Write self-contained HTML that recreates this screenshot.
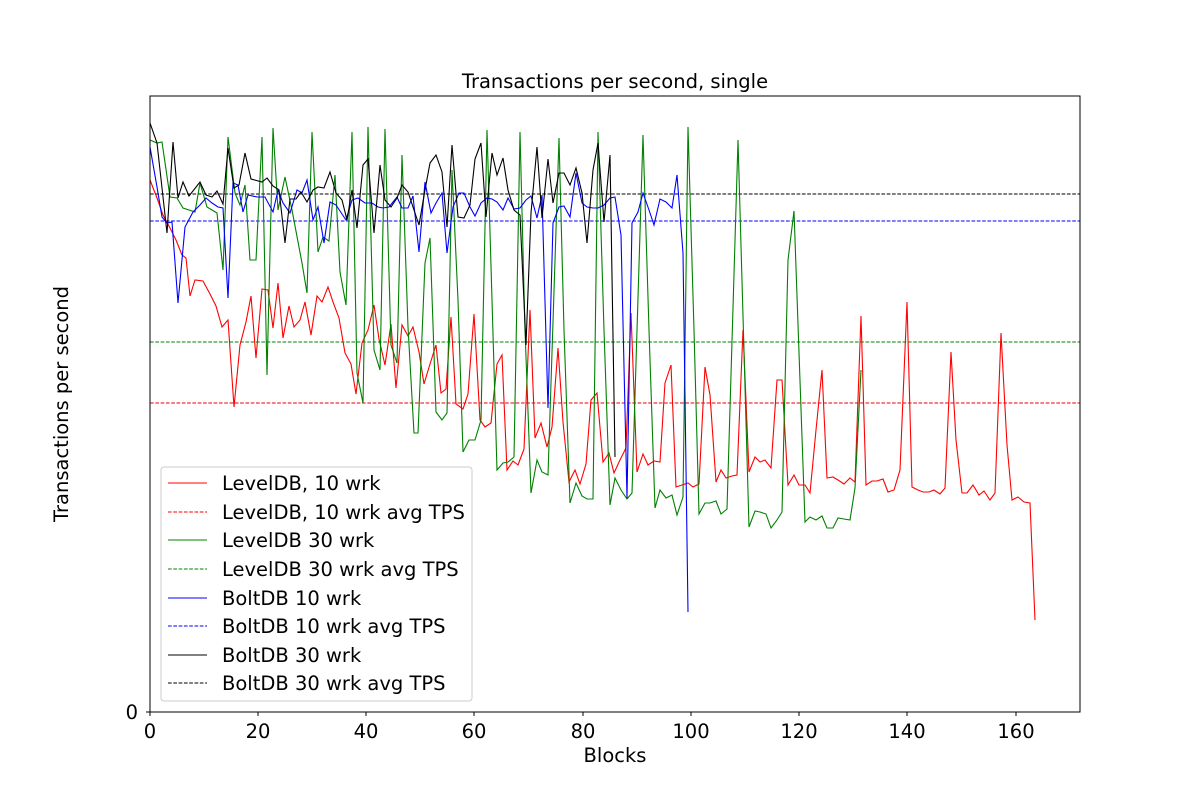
<!DOCTYPE html>
<html><head><meta charset="utf-8"><style>
html,body{margin:0;padding:0;background:#fff;}
svg{display:block;font-family:"DejaVu Sans","Liberation Sans",sans-serif;}
</style></head><body>
<svg width="1200" height="800" viewBox="0 0 1200 800" xmlns="http://www.w3.org/2000/svg">
<rect width="1200" height="800" fill="#fff"/>
<text x="615" y="88" font-size="19.5" text-anchor="middle">Transactions per second, single</text>
<g fill="none" stroke-width="1.1">
<line x1="150" y1="194" x2="1080" y2="194" stroke="#000" stroke-dasharray="3.7,1.6"/>
<line x1="150" y1="221" x2="1080" y2="221" stroke="#00f" stroke-dasharray="3.7,1.6"/>
<line x1="150" y1="342" x2="1080" y2="342" stroke="#008000" stroke-dasharray="3.7,1.6"/>
<line x1="150" y1="403" x2="1080" y2="403" stroke="#e00" stroke-dasharray="3.7,1.6"/>
<polyline stroke="#f00" points="150,180 157,198 163,215 170,228 176,240 182,255 186,258 190,296 195,280 203,281 210,294 216,306 222,327 228,320 234,407 240,345 246,322 251,296 256,358 262,289 268,290 273,328 278,283 283,338 289,306 294,327 300,320 305,302 311,335 317,296 322,302 328,287 333,302 339,318 345,353 351,364 356,394 362,343 368,330 374,305 379,339 385,365 391,324 396,388 402,325 408,336 413,327 419,352 424,384 430,364 436,345 441,393 446,389 451,317 456,404 463,409 468,394 474,314 480,420 485,427 491,423 497,364 502,355 507,470 513,461 518,465 524,449 530,310 535,438 541,423 547,447 552,427 558,348 563,422 569,482 575,470 580,484 586,464 591,400 597,393 603,462 609,453 614,473 620,460 626,448 631,313 637,472 643,454 648,465 654,461 660,462 665,383 671,365 676,487 682,485 688,483 693,487 699,484 705,367 710,395 716,482 721,470 726,478 732,476 737,475 743,330 749,472 755,457 760,462 765,460 771,468 777,380 782,380 788,485 794,475 799,485 805,485 810,493 816,430 822,370 827,478 833,477 838,480 844,484 850,478 855,482 861,316 866,485 872,481 877,481 883,479 888,492 894,490 900,470 907,302 912,487 918,490 923,492 929,492 934,490 940,494 945,488 951,352 956,440 962,493 967,493 973,485 979,495 984,491 990,500 995,493 1001,333 1007,445 1012,500 1018,497 1024,502 1030,503 1035,620"/>
<polyline stroke="#008000" points="150,140 157,143 162,142 170,197 177,198 183,208 195,212 200,183 207,207 217,213 223,270 228,137 235,193 240,205 245,185 250,260 256,260 262,137 267,375 273,128 278,210 285,177 292,210 302,263 307,293 312,132 318,252 323,237 329,241 335,175 340,272 346,305 352,132 357,373 363,403 368,127 374,350 380,370 385,129 391,345 397,363 402,155 408,327 414,433 418,433 425,263 430,238 436,412 442,420 447,413 452,170 458,300 463,452 469,440 475,440 481,420 487,130 492,300 497,470 503,463 508,462 514,457 520,132 525,330 531,493 537,460 542,472 548,475 559,138 564,330 570,503 576,483 582,496 587,499 593,499 598,132 604,330 610,505 615,478 621,490 627,499 632,493 643,135 649,330 655,508 660,490 666,498 672,495 677,515 683,497 688,127 694,330 699,514 705,503 710,503 716,501 721,514 727,509 738,140 749,527 755,511 760,512 766,514 771,528 777,520 782,512 788,260 794,211 805,522 810,517 816,520 822,516 827,528 833,528 838,518 844,519 850,520 855,488 861,370"/>
<polyline stroke="#00f" points="150,147 157,187 162,217 167,223 172,222 178,303 185,227 193,212 200,205 206,198 212,203 218,207 223,208 228,298 233,183 238,185 243,212 248,195 257,197 265,197 273,212 278,190 283,203 290,213 297,190 302,193 307,180 313,220 318,207 324,243 330,202 336,205 346,220 352,200 358,198 365,203 372,203 378,207 383,208 389,207 397,197 402,208 408,208 413,196 419,252 425,182 431,213 436,203 442,193 447,253 453,207 459,193 464,193 470,207 475,216 481,203 487,198 492,199 497,202 503,210 508,198 514,209 520,208 526,200 531,196 537,218 542,195 548,408 553,223 559,207 564,206 570,217 576,173 582,203 587,207 593,208 598,208 604,205 610,198 615,197 621,235 627,498 632,223 638,212 643,193 649,210 654,225 660,199 666,202 672,208 677,175 683,253 688,612"/>
<polyline stroke="#000" points="150,123 157,143 167,233 173,142 178,198 183,182 189,196 200,182 206,195 212,197 217,191 223,204 228,148 234,188 239,185 245,153 251,179 262,182 267,178 273,186 279,190 285,243 290,199 296,199 301,192 307,202 313,190 318,187 324,188 330,172 336,193 342,200 347,220 352,190 357,228 363,165 368,159 374,233 380,165 385,200 391,207 397,198 402,185 408,192 419,225 425,190 430,163 436,155 442,172 447,227 452,145 458,217 464,218 470,205 475,159 481,143 486,217 492,153 497,175 503,158 508,190 514,210 520,215 526,345 531,213 537,147 542,218 548,159 553,203 559,173 564,173 570,185 576,168 582,193 587,243 593,170 598,143 604,222 610,155 615,457"/>
</g>
<rect x="150" y="96" width="930" height="616" fill="none" stroke="#000" stroke-width="1"/>
<g stroke="#000" stroke-width="1">
<line x1="150" y1="712" x2="150" y2="716"/><line x1="258" y1="712" x2="258" y2="716"/><line x1="366" y1="712" x2="366" y2="716"/><line x1="474" y1="712" x2="474" y2="716"/><line x1="583" y1="712" x2="583" y2="716"/><line x1="691" y1="712" x2="691" y2="716"/><line x1="799" y1="712" x2="799" y2="716"/><line x1="907" y1="712" x2="907" y2="716"/><line x1="1016" y1="712" x2="1016" y2="716"/>
<line x1="146" y1="712" x2="150" y2="712"/>
</g>
<g font-size="19.5" text-anchor="middle">
<text x="150" y="738">0</text><text x="258" y="738">20</text><text x="366" y="738">40</text><text x="474" y="738">60</text><text x="583" y="738">80</text><text x="691" y="738">100</text><text x="799" y="738">120</text><text x="907" y="738">140</text><text x="1016" y="738">160</text>
<text x="615" y="762">Blocks</text>
<text x="138" y="719" text-anchor="end">0</text>
<text transform="translate(68,404) rotate(-90)">Transactions per second</text>
</g>
<rect x="161" y="467" width="311" height="234" rx="3" fill="#fff" fill-opacity="0.8" stroke="#ccc"/>
<g stroke-width="1.1">
<line x1="168" y1="483" x2="207" y2="483" stroke="#f00"/>
<line x1="168" y1="512" x2="207" y2="512" stroke="#f00" stroke-dasharray="3.7,1.6"/>
<line x1="168" y1="540" x2="207" y2="540" stroke="#008000"/>
<line x1="168" y1="569" x2="207" y2="569" stroke="#008000" stroke-dasharray="3.7,1.6"/>
<line x1="168" y1="598" x2="207" y2="598" stroke="#00f"/>
<line x1="168" y1="626" x2="207" y2="626" stroke="#00f" stroke-dasharray="3.7,1.6"/>
<line x1="168" y1="655" x2="207" y2="655" stroke="#000"/>
<line x1="168" y1="683" x2="207" y2="683" stroke="#000" stroke-dasharray="3.7,1.6"/>
</g>
<g font-size="19.5">
<text x="222" y="490">LevelDB, 10 wrk</text>
<text x="222" y="519">LevelDB, 10 wrk avg TPS</text>
<text x="222" y="547">LevelDB 30 wrk</text>
<text x="222" y="576">LevelDB 30 wrk avg TPS</text>
<text x="222" y="605">BoltDB 10 wrk</text>
<text x="222" y="633">BoltDB 10 wrk avg TPS</text>
<text x="222" y="662">BoltDB 30 wrk</text>
<text x="222" y="690">BoltDB 30 wrk avg TPS</text>
</g>
</svg>
</body></html>
